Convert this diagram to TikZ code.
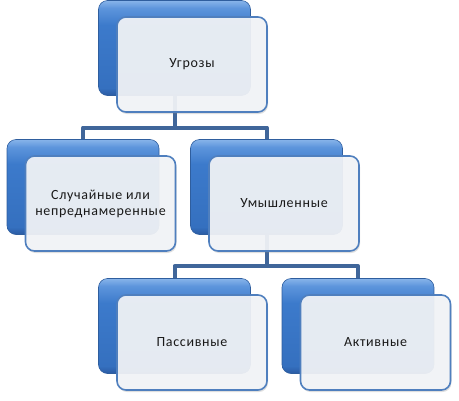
\documentclass[tikz,border=0pt]{standalone}
\usepackage{fontspec}
\setmainfont{Carlito}[LetterSpace=5]
\usetikzlibrary{shadows}
\definecolor{boxedge}{HTML}{2F5E9E}
\definecolor{frontfill}{HTML}{F3F5F8}
\definecolor{frontedge}{HTML}{4F7FBE}
\definecolor{linkcol}{HTML}{40669A}
\definecolor{blueA}{HTML}{2A5BA3}
\definecolor{blueB}{HTML}{3570BF}
\definecolor{blueC}{HTML}{3C7ACB}
\definecolor{blueD}{HTML}{5D95DC}
\definecolor{blueE}{HTML}{88B4EA}
\pgfdeclareverticalshading{bluebox}{100bp}{color(0bp)=(blueA);color(25bp)=(blueA);color(29bp)=(blueB);color(62bp)=(blueC);color(71bp)=(blueD);color(75bp)=(blueE);color(100bp)=(blueE)}
\begin{document}
\begin{tikzpicture}[x=1pt,y=-1pt,line join=round,font=\fontsize{14}{16}\selectfont]
	\tikzset{back/.style={draw=boxedge,line width=0.6pt,rounded corners=9pt,minimum width=152pt,minimum height=95pt,shading=bluebox},
		front/.style={draw=frontedge,line width=1.6pt,rounded corners=9pt,minimum width=150pt,minimum height=95pt,fill=frontfill,fill opacity=0.92,text opacity=1,align=center,text=black!90,drop shadow={shadow xshift=1pt,shadow yshift=-2pt,opacity=0.25}},
		link/.style={draw=linkcol,line width=4pt}}
	\useasboundingbox (0,0) rectangle (459,400);
	\foreach \n/\x/\y in {ugr/174.5/48,sl/83/187,um/266.5/187,pas/174.5/326,akt/358/326}
	\node[back] (\n) at (\x,\y) {};
	\coordinate (bar1) at (174.5,127.5);
	\coordinate (bar2) at (266.5,266);
	\draw[link] (ugr.south) -- (bar1) -| (sl.north);
	\draw[link] (bar1) -| (um.north);
	\draw[link] (um.south) -- (bar2) -| (pas.north);
	\draw[link] (bar2) -| (akt.north);
	\foreach \n/\t in {ugr/Угрозы,sl/{Случайные или\\непреднамеренные},um/Умышленные,pas/Пассивные,akt/Активные}
	\node[front] (\n-t) at ([shift={(17.5,16.5)}]\n) {\t};
\end{tikzpicture}
\end{document}
